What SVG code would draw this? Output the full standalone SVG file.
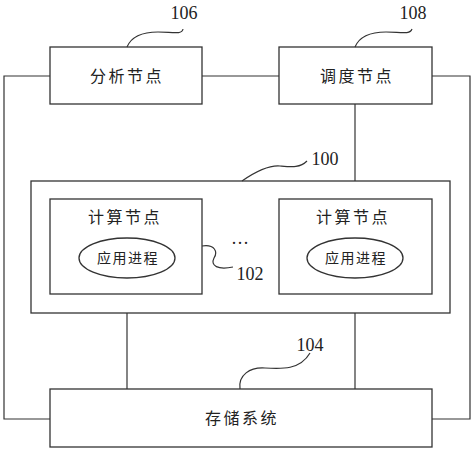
<svg xmlns="http://www.w3.org/2000/svg" width="474" height="451" viewBox="0 0 474 451">
<style>
.b{fill:#fff;stroke:#333;stroke-width:1.3}
.l{fill:none;stroke:#333;stroke-width:1.2}
.t{font-family:"Noto Sans CJK SC","Noto Sans CJK JP",sans-serif;font-size:16px;fill:#222;text-anchor:middle;letter-spacing:2.5px}
.s{font-family:"Noto Sans CJK SC","Noto Sans CJK JP",sans-serif;font-size:14px;fill:#222;text-anchor:middle;letter-spacing:1.5px}
.n{font-family:"Liberation Serif",serif;font-size:18px;fill:#222;text-anchor:middle}
</style>
<rect width="474" height="451" fill="#fff"/>
<g id="connectors">
<path class="l" d="M50 76H4V419H50"/>
<path class="l" d="M202 76H279"/>
<path class="l" d="M432 76H470V419H432"/>
<path class="l" d="M355 104V181"/>
<path class="l" d="M127 294V389"/>
<path class="l" d="M355 294V389"/>
</g>
<g id="n106"><rect class="b" x="50" y="47" width="152" height="57"/><text class="t" x="127" y="82">分析节点</text><text class="n" x="184" y="19">106</text></g>
<g id="n108"><rect class="b" x="279" y="47" width="153" height="57"/><text class="t" x="357" y="82">调度节点</text><text class="n" x="413" y="19">108</text></g>
<g id="n100"><rect class="b" x="31" y="181" width="419" height="132"/><text class="n" x="325" y="165">100</text></g>
<g id="n102a"><rect class="b" x="50" y="199" width="152" height="95"/><text class="t" x="125" y="223">计算节点</text><ellipse class="b" cx="127" cy="258" rx="48" ry="20"/><text class="s" x="128" y="263">应用进程</text></g>
<g id="dots"><text class="n" x="240" y="249">···</text><text class="n" x="250" y="280">102</text></g>
<g id="n102b"><rect class="b" x="279" y="199" width="153" height="95"/><text class="t" x="353" y="223">计算节点</text><ellipse class="b" cx="355" cy="258" rx="48" ry="20"/><text class="s" x="356" y="263">应用进程</text></g>
<g id="n104"><rect class="b" x="50" y="389" width="382" height="58"/><text class="t" x="242" y="424">存储系统</text><text class="n" x="310" y="351">104</text></g>
<g id="leaders">
<path class="l" d="M127 47C132 35 145 32 158 32C172 32 182 35 183 29"/>
<path class="l" d="M355 47C360 35 373 32 386 32C400 32 410 35 412 29"/>
<path class="l" d="M242 181C255 172 268 165 280 166C292 167 300 168 307 161"/>
<path class="l" d="M202 246C215 244 218 252 214 258C210 266 218 270 233 267"/>
<path class="l" d="M240 389C238 375 250 367 265 368C282 369 300 370 310 353"/>
</g>
</svg>
